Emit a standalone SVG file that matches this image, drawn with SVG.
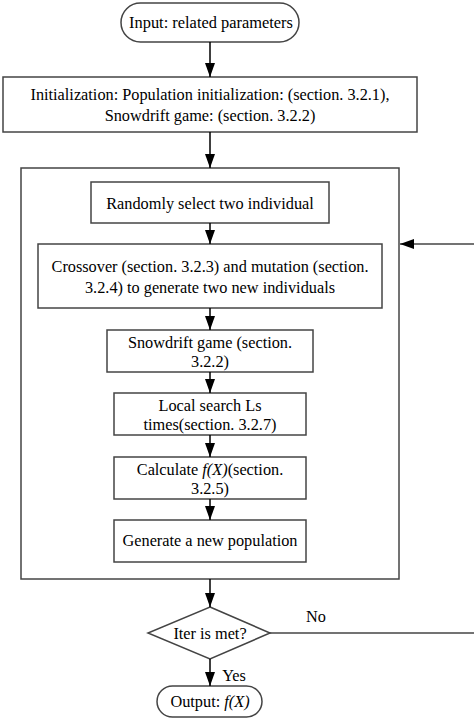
<svg xmlns="http://www.w3.org/2000/svg" width="474" height="724" viewBox="0 0 474 724">
<defs>
<style>
.box{fill:#fff;stroke:#444;stroke-width:1.5}
.t{font-family:"Liberation Serif","Times New Roman",serif;font-size:16.3px;fill:#000;text-anchor:middle}
.c{stroke:#000;stroke-width:1.5;fill:none}
.g{stroke:#444;stroke-width:1.5;fill:none}
</style>
<marker id="ah" markerWidth="14" markerHeight="10" refX="14" refY="5" orient="auto" markerUnits="userSpaceOnUse">
<path d="M0,0 L14,5 L0,10 Z" fill="#000"/>
</marker>
</defs>
<rect width="474" height="724" fill="#fff"/>
<g id="outer-loop"><rect class="box" x="21" y="168" width="378" height="411"/></g>
<g id="input"><rect class="box" x="121" y="3" width="178" height="39" rx="19.5"/><text class="t" x="211" y="28" style="font-size:16.4px">Input: related parameters</text></g>
<g id="init"><rect class="box" x="3" y="77" width="414" height="55"/><text class="t" x="210" y="100">Initialization: Population initialization: (section. 3.2.1),</text><text class="t" x="210" y="121">Snowdrift game: (section. 3.2.2)</text></g>
<g id="select"><rect class="box" x="91" y="182" width="238" height="41"/><text class="t" x="210" y="209">Randomly select two individual</text></g>
<g id="crossover"><rect class="box" x="38" y="244" width="344" height="64"/><text class="t" x="210" y="272">Crossover (section. 3.2.3) and mutation (section.</text><text class="t" x="210" y="293">3.2.4) to generate two new individuals</text></g>
<g id="snowdrift"><rect class="box" x="107" y="330" width="206" height="42"/><text class="t" x="210" y="348">Snowdrift game (section.</text><text class="t" x="210" y="367">3.2.2)</text></g>
<g id="local"><rect class="box" x="114" y="393" width="192" height="42"/><text class="t" x="210" y="411">Local search Ls</text><text class="t" x="210" y="430">times(section. 3.2.7)</text></g>
<g id="calc"><rect class="box" x="114" y="457" width="192" height="42"/><text class="t" x="210" y="475">Calculate <tspan font-style="italic">f(X)</tspan>(section.</text><text class="t" x="210" y="494">3.2.5)</text></g>
<g id="generate"><rect class="box" x="114" y="520" width="192" height="42"/><text class="t" x="210" y="546">Generate a new population</text></g>
<g id="decision"><polygon class="box" points="210,607 270,633 210,659 148,633"/><text class="t" x="210" y="639">Iter is met?</text></g>
<g id="output"><rect class="box" x="157" y="686" width="105" height="31" rx="15.5"/><text class="t" x="210" y="707">Output: <tspan font-style="italic">f(X)</tspan></text></g>
<g id="connectors">
<line class="c" x1="210" y1="42" x2="210" y2="77" marker-end="url(#ah)"/>
<line class="c" x1="210" y1="132" x2="210" y2="168" marker-end="url(#ah)"/>
<line class="c" x1="210" y1="223" x2="210" y2="244" marker-end="url(#ah)"/>
<line class="c" x1="210" y1="308" x2="210" y2="330" marker-end="url(#ah)"/>
<line class="c" x1="210" y1="372" x2="210" y2="393" marker-end="url(#ah)"/>
<line class="c" x1="210" y1="435" x2="210" y2="457" marker-end="url(#ah)"/>
<line class="c" x1="210" y1="499" x2="210" y2="520" marker-end="url(#ah)"/>
<line class="c" x1="210" y1="579" x2="210" y2="607" marker-end="url(#ah)"/>
<line class="c" x1="210" y1="659" x2="210" y2="686" marker-end="url(#ah)"/>
<line class="g" x1="270" y1="633" x2="474" y2="633"/>
<line class="g" x1="474" y1="244" x2="400" y2="244" marker-end="url(#ah)"/>
<text class="t" x="316" y="622">No</text>
<text class="t" x="234" y="681">Yes</text>
</g>
</svg>
